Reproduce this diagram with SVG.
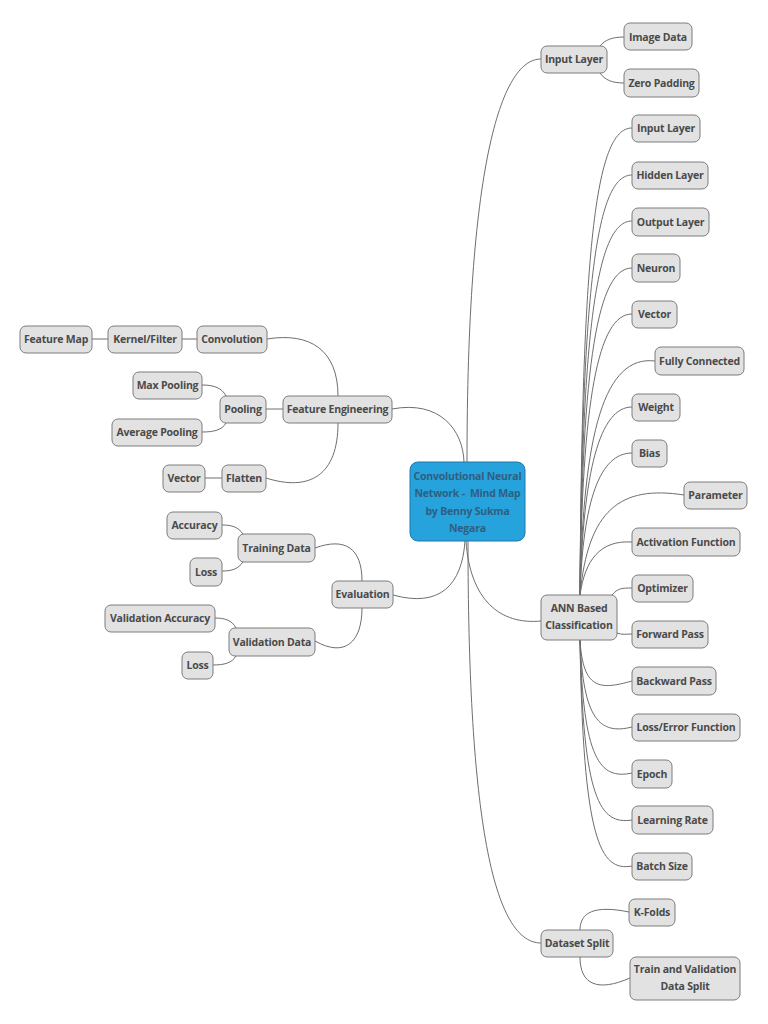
<svg xmlns="http://www.w3.org/2000/svg" width="768" height="1024" viewBox="0 0 768 1024">
<style>
.n rect{fill:#e2e2e2;stroke:#7c7c7c;stroke-width:1}
.n text{font-family:"Open Sans","Noto Sans","DejaVu Sans",sans-serif;font-weight:bold;font-size:10.5px;letter-spacing:-0.2px;fill:#4a4a4a;text-anchor:middle}
#center rect{fill:#26a2dc;stroke:#1f79a8}
#center text{fill:#2f5f80;white-space:pre}
#connectors path{fill:none;stroke:#6e6e6e;stroke-width:1}
</style>
<rect width="768" height="1024" fill="#ffffff"/>
<g id="connectors">
<path d="M467,462 C467,170 500,59 541,59"/>
<path d="M392,409 C440,400 463,430 464,462"/>
<path d="M393,595 C440,608 462,585 465,541"/>
<path d="M466,541 C470,600 500,625 541,621"/>
<path d="M468,541 C468,800 490,943 541,943"/>
<path d="M600,46 C605,40 612,37 624,37"/>
<path d="M600,73 C605,80 612,83 624,83"/>
<path d="M580,595 C582,250 595,128 632,128"/>
<path d="M580,595 C582,280 597,175 632,175"/>
<path d="M580,595 C582,320 598,221 632,221"/>
<path d="M580,595 C582,360 598,268 632,268"/>
<path d="M580,595 C582,400 598,314 632,314"/>
<path d="M580,595 C583,430 605,355 655,361"/>
<path d="M580,595 C583,470 600,407 632,407"/>
<path d="M580,595 C583,500 600,453 632,453"/>
<path d="M580,595 C588,510 620,485 684,495"/>
<path d="M580,595 C585,560 600,540 632,542"/>
<path d="M612,595 C618,588 622,588 632,588"/>
<path d="M617,633 C622,635 626,634 632,634"/>
<path d="M580,640 C583,690 600,690 632,681"/>
<path d="M580,640 C583,720 600,735 632,727"/>
<path d="M580,640 C583,760 600,780 632,773"/>
<path d="M580,640 C583,800 600,825 632,820"/>
<path d="M580,640 C583,840 600,872 632,866"/>
<path d="M580,930 C580,912 595,905 629,912"/>
<path d="M580,957 C580,985 598,992 630,978"/>
<path d="M338,396 C338,350 310,332 267,339"/>
<path d="M338,423 C338,475 310,492 266,478"/>
<path d="M266,409 L283,409"/>
<path d="M226,396 C222,388 214,385 202,385"/>
<path d="M226,423 C222,430 214,432 202,432"/>
<path d="M205,478 L222,478"/>
<path d="M182,339 L197,339"/>
<path d="M92,339 L108,339"/>
<path d="M362,581 C362,548 345,537 315,548"/>
<path d="M362,608 C362,642 345,658 315,641"/>
<path d="M243,534 C238,527 232,525 222,525"/>
<path d="M243,562 C238,569 232,571 222,571"/>
<path d="M236,628 C232,620 224,618 215,618"/>
<path d="M236,656 C232,663 224,665 213,665"/>
</g>
<g id="center" class="n"><rect x="410" y="462" width="115" height="79" rx="8"/><text x="467.5" y="480">Convolutional Neural</text><text x="467.5" y="497" xml:space="preserve">Network -  Mind Map</text><text x="467.5" y="515">by Benny Sukma</text><text x="467.5" y="532">Negara</text></g>
<g id="input-layer" class="n"><rect x="541" y="46" width="66" height="27" rx="6"/><text x="574" y="63">Input Layer</text></g>
<g id="image-data" class="n"><rect x="624" y="23" width="68" height="27" rx="6"/><text x="658" y="41">Image Data</text></g>
<g id="zero-padding" class="n"><rect x="624" y="69" width="75" height="28" rx="6"/><text x="661.5" y="87">Zero Padding</text></g>
<g id="ann" class="n"><rect x="541" y="595" width="76" height="45" rx="6"/><text x="579" y="612">ANN Based</text><text x="579" y="629">Classification</text></g>
<g id="ann-input" class="n"><rect x="632" y="115" width="68" height="27" rx="6"/><text x="666" y="132">Input Layer</text></g>
<g id="hidden" class="n"><rect x="632" y="162" width="76" height="27" rx="6"/><text x="670" y="179">Hidden Layer</text></g>
<g id="output" class="n"><rect x="632" y="208" width="77" height="28" rx="6"/><text x="670.5" y="226">Output Layer</text></g>
<g id="neuron" class="n"><rect x="632" y="254" width="48" height="28" rx="6"/><text x="656" y="272">Neuron</text></g>
<g id="vector-r" class="n"><rect x="632" y="301" width="45" height="27" rx="6"/><text x="654.5" y="318">Vector</text></g>
<g id="fully" class="n"><rect x="655" y="347" width="89" height="28" rx="6"/><text x="699.5" y="365">Fully Connected</text></g>
<g id="weight" class="n"><rect x="632" y="394" width="48" height="27" rx="6"/><text x="656" y="411">Weight</text></g>
<g id="bias" class="n"><rect x="632" y="440" width="35" height="27" rx="6"/><text x="649.5" y="457">Bias</text></g>
<g id="parameter" class="n"><rect x="684" y="482" width="63" height="27" rx="6"/><text x="715.5" y="499">Parameter</text></g>
<g id="activation" class="n"><rect x="632" y="528" width="108" height="28" rx="6"/><text x="686" y="546">Activation Function</text></g>
<g id="optimizer" class="n"><rect x="632" y="575" width="61" height="27" rx="6"/><text x="662.5" y="592">Optimizer</text></g>
<g id="forward" class="n"><rect x="632" y="621" width="76" height="27" rx="6"/><text x="670" y="638">Forward Pass</text></g>
<g id="backward" class="n"><rect x="632" y="667" width="84" height="28" rx="6"/><text x="674" y="685">Backward Pass</text></g>
<g id="loss-fn" class="n"><rect x="632" y="714" width="108" height="27" rx="6"/><text x="686" y="731">Loss/Error Function</text></g>
<g id="epoch" class="n"><rect x="632" y="760" width="40" height="28" rx="6"/><text x="652" y="778">Epoch</text></g>
<g id="lr" class="n"><rect x="632" y="806" width="81" height="28" rx="6"/><text x="672.5" y="824">Learning Rate</text></g>
<g id="batch" class="n"><rect x="632" y="853" width="60" height="27" rx="6"/><text x="662" y="870">Batch Size</text></g>
<g id="dataset" class="n"><rect x="541" y="930" width="72" height="27" rx="6"/><text x="577" y="947">Dataset Split</text></g>
<g id="kfolds" class="n"><rect x="629" y="899" width="46" height="27" rx="6"/><text x="652" y="916">K-Folds</text></g>
<g id="tvsplit" class="n"><rect x="630" y="957" width="110" height="43" rx="6"/><text x="685" y="973">Train and Validation</text><text x="685" y="990">Data Split</text></g>
<g id="fe" class="n"><rect x="283" y="396" width="109" height="27" rx="6"/><text x="337.5" y="413">Feature Engineering</text></g>
<g id="conv" class="n"><rect x="197" y="326" width="70" height="27" rx="6"/><text x="232" y="343">Convolution</text></g>
<g id="kernel" class="n"><rect x="108" y="326" width="74" height="27" rx="6"/><text x="145" y="343">Kernel/Filter</text></g>
<g id="fmap" class="n"><rect x="20" y="326" width="72" height="27" rx="6"/><text x="56" y="343">Feature Map</text></g>
<g id="pooling" class="n"><rect x="220" y="396" width="46" height="27" rx="6"/><text x="243" y="413">Pooling</text></g>
<g id="maxpool" class="n"><rect x="133" y="372" width="69" height="27" rx="6"/><text x="167.5" y="389">Max Pooling</text></g>
<g id="avgpool" class="n"><rect x="112" y="419" width="90" height="27" rx="6"/><text x="157" y="436">Average Pooling</text></g>
<g id="flatten" class="n"><rect x="222" y="465" width="44" height="27" rx="6"/><text x="244" y="482">Flatten</text></g>
<g id="vector-l" class="n"><rect x="163" y="465" width="42" height="27" rx="6"/><text x="184" y="482">Vector</text></g>
<g id="evaluation" class="n"><rect x="332" y="581" width="61" height="27" rx="6"/><text x="362.5" y="598">Evaluation</text></g>
<g id="training" class="n"><rect x="238" y="534" width="77" height="28" rx="6"/><text x="276.5" y="552">Training Data</text></g>
<g id="accuracy" class="n"><rect x="167" y="512" width="55" height="27" rx="6"/><text x="194.5" y="529">Accuracy</text></g>
<g id="loss-t" class="n"><rect x="190" y="558" width="32" height="28" rx="6"/><text x="206" y="576">Loss</text></g>
<g id="validation" class="n"><rect x="229" y="628" width="86" height="28" rx="6"/><text x="272" y="646">Validation Data</text></g>
<g id="valacc" class="n"><rect x="105" y="605" width="110" height="27" rx="6"/><text x="160" y="622">Validation Accuracy</text></g>
<g id="loss-v" class="n"><rect x="182" y="652" width="31" height="27" rx="6"/><text x="197.5" y="669">Loss</text></g>
</svg>
